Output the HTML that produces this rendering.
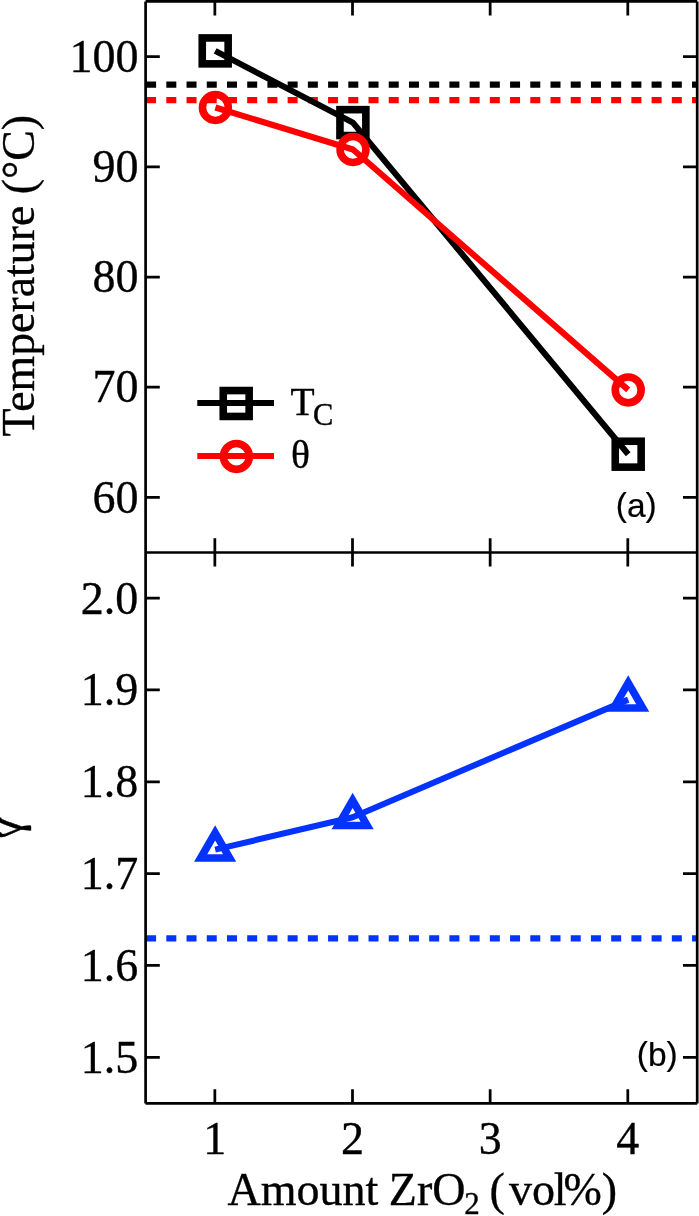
<!DOCTYPE html>
<html>
<head>
<meta charset="utf-8">
<title>Temperature and gamma versus amount of ZrO2</title>
<style>
html,body{margin:0;padding:0;background:#fff;}
body{width:699px;height:1216px;overflow:hidden;}
svg{display:block;}
text{font-family:"Liberation Serif",serif;fill:#000;stroke:#000;stroke-width:0.35px;}
.sans{font-family:"Liberation Sans",sans-serif;stroke-width:0.2px;}
.ax{stroke:#000;stroke-width:2.7;fill:none;}
.tk{stroke:#000;stroke-width:2.75;fill:none;}
.yl{font-size:46px;text-anchor:end;}
.xl{font-size:46px;text-anchor:middle;}
</style>
</head>
<body>
<svg width="699" height="1216" viewBox="0 0 699 1216">
<rect x="0" y="0" width="699" height="1216" fill="#fff"/>

<!-- dashed reference lines -->
<g fill="none" stroke-width="6.3" stroke-dasharray="10 10.22">
<line x1="146.1" y1="84.55" x2="697.2" y2="84.55" stroke="#000"/>
<line x1="146.1" y1="100.2" x2="697.2" y2="100.2" stroke="#f00"/>
<line x1="146.1" y1="938.4" x2="697.2" y2="938.4" stroke="#0433ff"/>
</g>

<!-- Tc series -->
<g stroke="#000" fill="none" stroke-width="7.6">
<polyline stroke-width="6.1" stroke-linejoin="round" points="215.2,50.9 352.9,122.6 628.2,454.2"/>
<rect x="202.25" y="37.95" width="25.9" height="25.9"/>
<rect x="339.95" y="109.65" width="25.9" height="25.9"/>
<rect x="615.25" y="441.25" width="25.9" height="25.9"/>
</g>
<!-- theta series -->
<g stroke="#f00" fill="none" stroke-width="7.6">
<polyline stroke-width="6.1" stroke-linejoin="round" points="215.4,107.5 353,149.5 628.2,389.9"/>
<circle cx="215.4" cy="107.5" r="12.95"/>
<circle cx="353" cy="149.5" r="12.95"/>
<circle cx="628.2" cy="389.9" r="12.95"/>
</g>
<!-- gamma series -->
<g stroke="#0433ff" fill="none" stroke-width="7.6" stroke-miterlimit="10">
<polyline stroke-width="6.1" stroke-linejoin="round" points="215.15,849.65 352.65,817.2 628.2,699.6"/>
<polygon points="215.15,832.91 229.65,858.02 200.65,858.02"/>
<polygon points="352.65,800.46 367.15,825.57 338.15,825.57"/>
<polygon points="628.2,682.86 642.7,707.97 613.7,707.97"/>
</g>

<!-- legend -->
<g fill="none" stroke-width="7.6">
<line x1="197.3" y1="403" x2="274" y2="403" stroke="#000" stroke-width="6.1"/>
<rect x="223.25" y="390.55" width="25.9" height="25.9" stroke="#000"/>
<line x1="197.3" y1="456" x2="274" y2="456" stroke="#f00" stroke-width="6.1"/>
<circle cx="236.4" cy="456.4" r="12.95" stroke="#f00"/>
</g>
<text x="290.5" y="415" font-size="39.5">T</text>
<text x="313" y="424.6" font-size="30.5">C</text>
<text x="291" y="468.2" font-size="39.5">θ</text>

<!-- axes -->
<g class="ax">
<path d="M145.6 1.4H697.2M697.2 1.4V1103.4M697.2 1103.4H145.6M145.6 1103.4V1.4"/>
<path d="M145.6 552.4H697.2" stroke-width="2.5"/>
</g>
<g class="tk">
<path d="M214.85 1.4v14.2M352.5 1.4v14.2M490.15 1.4v14.2M627.8 1.4v14.2"/>
<path d="M214.85 538.2v28.4M352.5 538.2v28.4M490.15 538.2v28.4M627.8 538.2v28.4"/>
<path d="M214.85 1103.4v-14.2M352.5 1103.4v-14.2M490.15 1103.4v-14.2M627.8 1103.4v-14.2"/>
<path d="M145.6 56.65h14.2M697.2 56.65h-14.2M145.6 166.84h14.2M697.2 166.84h-14.2M145.6 277.03h14.2M697.2 277.03h-14.2M145.6 387.22h14.2M697.2 387.22h-14.2M145.6 497.41h14.2M697.2 497.41h-14.2"/>
<path d="M145.6 598.1h14.2M697.2 598.1h-14.2M145.6 689.94h14.2M697.2 689.94h-14.2M145.6 781.78h14.2M697.2 781.78h-14.2M145.6 873.62h14.2M697.2 873.62h-14.2M145.6 965.46h14.2M697.2 965.46h-14.2M145.6 1057.3h14.2M697.2 1057.3h-14.2"/>
</g>

<!-- y tick labels -->
<g class="yl">
<text x="138.4" y="71.75">100</text>
<text x="138.4" y="181.94">90</text>
<text x="138.4" y="292.13">80</text>
<text x="138.4" y="402.32">70</text>
<text x="138.4" y="512.51">60</text>
<text x="138.3" y="613.6">2.0</text>
<text x="138.3" y="705.44">1.9</text>
<text x="138.3" y="797.28">1.8</text>
<text x="138.3" y="889.12">1.7</text>
<text x="138.3" y="980.96">1.6</text>
<text x="138.3" y="1072.8">1.5</text>
</g>
<!-- x tick labels -->
<g class="xl">
<text x="214.85" y="1153.8">1</text>
<text x="352.5" y="1153.8">2</text>
<text x="490.15" y="1153.8">3</text>
<text x="627.8" y="1153.8">4</text>
</g>

<!-- axis titles -->
<g font-size="46">
<text x="227.6" y="1204.5">Amount</text>
<text x="388.8" y="1204.5">ZrO</text>
<text x="464.2" y="1214.2" font-size="31">2</text>
<text x="489.4" y="1204.5">(</text>
<text x="508.9" y="1204.5">vo</text>
<text x="553.8" y="1204.5">l</text>
<text x="563.4" y="1204.5">%)</text>
</g>
<text transform="translate(33.7,436.5) rotate(-90)" font-size="45.8">Temperature (°C)</text>
<text transform="translate(21,828) rotate(-90) scale(-1,1)" font-size="46.2" text-anchor="middle">γ</text>

<!-- panel labels -->
<text class="sans" x="615.8" y="516.5" font-size="33.5"><tspan dy="-1">(</tspan><tspan dy="1">a</tspan><tspan dy="-1">)</tspan></text>
<text class="sans" x="636.8" y="1066" font-size="33.5"><tspan dy="-1">(</tspan><tspan dy="1">b</tspan><tspan dy="-1">)</tspan></text>
</svg>
</body>
</html>
